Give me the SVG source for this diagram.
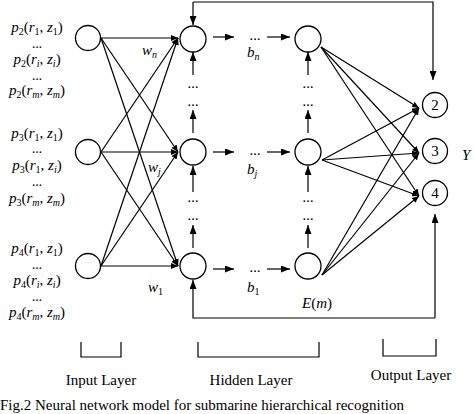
<svg xmlns="http://www.w3.org/2000/svg" width="474" height="414" viewBox="0 0 474 414">
<defs>
<marker id="ar" markerWidth="9" markerHeight="7" refX="9" refY="3.5" orient="auto" markerUnits="userSpaceOnUse">
<path d="M0,0 L9,3.5 L0,7 z" fill="#000"/>
</marker>
<marker id="as" markerWidth="7" markerHeight="6" refX="7" refY="3" orient="auto" markerUnits="userSpaceOnUse">
<path d="M0,0 L7,3 L0,6 z" fill="#000"/>
</marker>
<style>
.n{fill:#fff;stroke:#000;stroke-width:1.3}
.c{fill:none;stroke:#000;stroke-width:1.2}
.a{marker-end:url(#ar)}
.s{marker-end:url(#as)}
text{font-family:'Liberation Serif','DejaVu Serif',serif;font-size:15px;fill:#000}
.m{text-anchor:middle}
.i{font-style:italic}
.sb{font-size:10px}
.d{font-size:11px;text-anchor:middle;font-weight:bold}
.dl{font-size:10px;text-anchor:middle;font-weight:bold}
</style>
</defs>
<rect width="474" height="414" fill="#fff"/>

<g id="connectors">
<line class="c s" x1="101" y1="38" x2="178" y2="38"/>
<line class="c s" x1="101" y1="38" x2="178" y2="152"/>
<line class="c s" x1="101" y1="38" x2="178" y2="266"/>
<line class="c s" x1="101" y1="152" x2="178" y2="38"/>
<line class="c s" x1="101" y1="152" x2="178" y2="152"/>
<line class="c s" x1="101" y1="152" x2="178" y2="266"/>
<line class="c s" x1="101" y1="266" x2="178" y2="38"/>
<line class="c s" x1="101" y1="266" x2="178" y2="152"/>
<line class="c s" x1="101" y1="266" x2="178" y2="266"/>
<line class="c a" x1="213" y1="37" x2="234" y2="37"/>
<line class="c a" x1="267" y1="37" x2="290" y2="37"/>
<line class="c a" x1="213" y1="152" x2="234" y2="152"/>
<line class="c a" x1="267" y1="152" x2="290" y2="152"/>
<line class="c a" x1="213" y1="269" x2="234" y2="269"/>
<line class="c a" x1="267" y1="269" x2="290" y2="269"/>
<line class="c a" x1="193" y1="75" x2="193" y2="52"/>
<line class="c a" x1="193" y1="133" x2="193" y2="110"/>
<line class="c a" x1="193" y1="192" x2="193" y2="166"/>
<line class="c a" x1="193" y1="248" x2="193" y2="225"/>
<line class="c a" x1="308" y1="75" x2="308" y2="52"/>
<line class="c a" x1="308" y1="133" x2="308" y2="110"/>
<line class="c a" x1="308" y1="192" x2="308" y2="166"/>
<line class="c a" x1="308" y1="248" x2="308" y2="225"/>
<line class="c s" x1="321" y1="47" x2="419" y2="108"/>
<line class="c s" x1="321" y1="47" x2="419" y2="153"/>
<line class="c s" x1="321" y1="47" x2="419" y2="196"/>
<line class="c s" x1="322" y1="160" x2="419" y2="108"/>
<line class="c s" x1="322" y1="160" x2="419" y2="153"/>
<line class="c s" x1="322" y1="160" x2="419" y2="196"/>
<line class="c s" x1="322" y1="275" x2="419" y2="108"/>
<line class="c s" x1="322" y1="275" x2="419" y2="153"/>
<line class="c s" x1="322" y1="275" x2="419" y2="196"/>
<polyline class="c a" points="193,2 193,25"/>
<polyline class="c a" points="193,2 433,2 433,80"/>
<polyline class="c a" points="435,318 435,214"/>
<polyline class="c a" points="435,318 193,318 193,280"/>
<path class="c" d="M81,342 V357 H121 V342"/>
<path class="c" d="M198,342 V357 H319 V342"/>
<path class="c" d="M383,339 V356 H436 V339"/>
</g>

<g id="input1"><circle class="n" cx="88" cy="38" r="12.5"/></g>
<g id="input2"><circle class="n" cx="88" cy="152" r="12.5"/></g>
<g id="input3"><circle class="n" cx="88" cy="266" r="12.5"/></g>
<g id="hiddenL1"><circle class="n" cx="193" cy="39" r="13"/></g>
<g id="hiddenL2"><circle class="n" cx="193" cy="152" r="13"/></g>
<g id="hiddenL3"><circle class="n" cx="193" cy="266" r="13"/></g>
<g id="hiddenR1"><circle class="n" cx="308" cy="39" r="13"/></g>
<g id="hiddenR2"><circle class="n" cx="308" cy="152" r="13"/></g>
<g id="hiddenR3"><circle class="n" cx="308" cy="266" r="13"/></g>
<g id="out2"><circle class="n" cx="435" cy="105" r="12.5"/><text class="m" x="435" y="110">2</text></g>
<g id="out3"><circle class="n" cx="435" cy="151" r="12.5"/><text class="m" x="435" y="156">3</text></g>
<g id="out4"><circle class="n" cx="435" cy="193" r="12.5"/><text class="m" x="435" y="198">4</text></g>

<g id="hidden-dots">
<text class="d" x="255" y="40">…</text>
<text class="d" x="255" y="155">…</text>
<text class="d" x="255" y="272">…</text>
<text class="d" x="193" y="88">…</text>
<text class="d" x="193" y="106">…</text>
<text class="d" x="193" y="202">…</text>
<text class="d" x="193" y="220">…</text>
<text class="d" x="308" y="88">…</text>
<text class="d" x="308" y="106">…</text>
<text class="d" x="308" y="202">…</text>
<text class="d" x="308" y="220">…</text>
</g>

<g id="labels">
<text x="142" y="55"><tspan class="i">w</tspan><tspan class="sb i" dy="3">n</tspan></text>
<text x="148" y="172"><tspan class="i">w</tspan><tspan class="sb i" dy="3">j</tspan></text>
<text x="148" y="292"><tspan class="i">w</tspan><tspan class="sb" dy="3">1</tspan></text>
<text x="247" y="57"><tspan class="i">b</tspan><tspan class="sb i" dy="3">n</tspan></text>
<text x="247" y="174"><tspan class="i">b</tspan><tspan class="sb i" dy="3">j</tspan></text>
<text x="247" y="292"><tspan class="i">b</tspan><tspan class="sb" dy="3">1</tspan></text>
<text x="302" y="308"><tspan class="i">E</tspan>(<tspan class="i">m</tspan>)</text>
<text class="i" x="462" y="160">Y</text>

<text class="m" x="37" y="32"><tspan class="i">p</tspan><tspan class="sb" dy="3">2</tspan><tspan dy="-3">(</tspan><tspan class="i">r</tspan><tspan class="sb" dy="3">1</tspan><tspan dy="-3">, </tspan><tspan class="i">z</tspan><tspan class="sb" dy="3">1</tspan><tspan dy="-3">)</tspan></text>
<text class="dl" x="37" y="48">…</text>
<text class="m" x="37" y="64"><tspan class="i">p</tspan><tspan class="sb" dy="3">2</tspan><tspan dy="-3">(</tspan><tspan class="i">r</tspan><tspan class="sb i" dy="3">i</tspan><tspan dy="-3">, </tspan><tspan class="i">z</tspan><tspan class="sb i" dy="3">i</tspan><tspan dy="-3">)</tspan></text>
<text class="dl" x="37" y="80">…</text>
<text class="m" x="37" y="95"><tspan class="i">p</tspan><tspan class="sb" dy="3">2</tspan><tspan dy="-3">(</tspan><tspan class="i">r</tspan><tspan class="sb i" dy="3">m</tspan><tspan dy="-3">, </tspan><tspan class="i">z</tspan><tspan class="sb i" dy="3">m</tspan><tspan dy="-3">)</tspan></text>

<text class="m" x="37" y="138"><tspan class="i">p</tspan><tspan class="sb" dy="3">3</tspan><tspan dy="-3">(</tspan><tspan class="i">r</tspan><tspan class="sb" dy="3">1</tspan><tspan dy="-3">, </tspan><tspan class="i">z</tspan><tspan class="sb" dy="3">1</tspan><tspan dy="-3">)</tspan></text>
<text class="dl" x="37" y="153">…</text>
<text class="m" x="37" y="170"><tspan class="i">p</tspan><tspan class="sb" dy="3">3</tspan><tspan dy="-3">(</tspan><tspan class="i">r</tspan><tspan class="sb" dy="3">1</tspan><tspan dy="-3">, </tspan><tspan class="i">z</tspan><tspan class="sb i" dy="3">i</tspan><tspan dy="-3">)</tspan></text>
<text class="dl" x="37" y="186">…</text>
<text class="m" x="37" y="203"><tspan class="i">p</tspan><tspan class="sb" dy="3">3</tspan><tspan dy="-3">(</tspan><tspan class="i">r</tspan><tspan class="sb i" dy="3">m</tspan><tspan dy="-3">, </tspan><tspan class="i">z</tspan><tspan class="sb i" dy="3">m</tspan><tspan dy="-3">)</tspan></text>

<text class="m" x="37" y="253"><tspan class="i">p</tspan><tspan class="sb" dy="3">4</tspan><tspan dy="-3">(</tspan><tspan class="i">r</tspan><tspan class="sb" dy="3">1</tspan><tspan dy="-3">, </tspan><tspan class="i">z</tspan><tspan class="sb" dy="3">1</tspan><tspan dy="-3">)</tspan></text>
<text class="dl" x="37" y="269">…</text>
<text class="m" x="37" y="285"><tspan class="i">p</tspan><tspan class="sb" dy="3">4</tspan><tspan dy="-3">(</tspan><tspan class="i">r</tspan><tspan class="sb i" dy="3">i</tspan><tspan dy="-3">, </tspan><tspan class="i">z</tspan><tspan class="sb i" dy="3">i</tspan><tspan dy="-3">)</tspan></text>
<text class="dl" x="37" y="301">…</text>
<text class="m" x="37" y="317"><tspan class="i">p</tspan><tspan class="sb" dy="3">4</tspan><tspan dy="-3">(</tspan><tspan class="i">r</tspan><tspan class="sb i" dy="3">m</tspan><tspan dy="-3">, </tspan><tspan class="i">z</tspan><tspan class="sb i" dy="3">m</tspan><tspan dy="-3">)</tspan></text>

<text class="m" x="101" y="385">Input Layer</text>
<text class="m" x="251" y="385">Hidden Layer</text>
<text class="m" x="411" y="380">Output Layer</text>
<text x="0" y="410">Fig.2 Neural network model for submarine hierarchical recognition</text>
</g>
</svg>
